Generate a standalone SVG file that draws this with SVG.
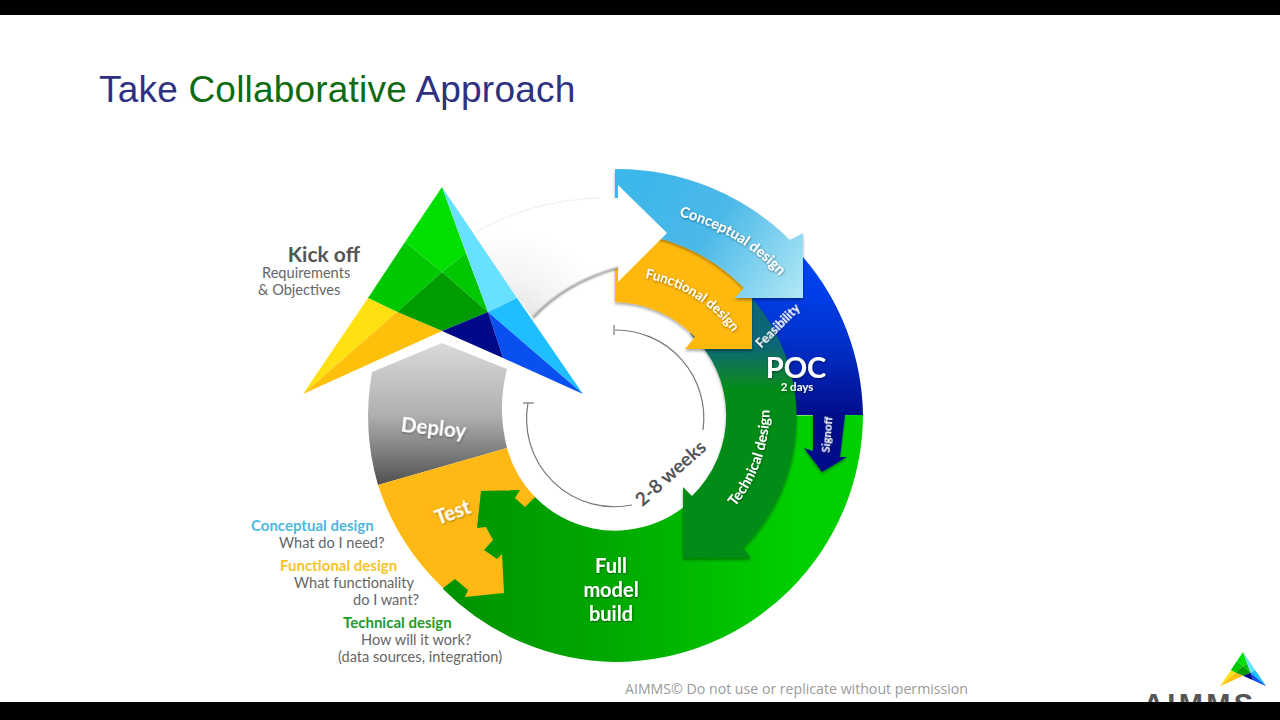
<svg xmlns="http://www.w3.org/2000/svg" xmlns:xlink="http://www.w3.org/1999/xlink" width="1280" height="720" viewBox="0 0 1280 720">
<style>
text{font-family:"Lato","Noto Sans","Liberation Sans",sans-serif}
.w{fill:#fff;font-weight:700;filter:url(#ts)}
.g{fill:#666;font-size:14.600px}
.lb{font-size:15px;font-weight:700}
</style>
<defs>
<linearGradient id="gGreen" gradientUnits="userSpaceOnUse" x1="450" y1="0" x2="800" y2="0"><stop offset="0" stop-color="#009300"/><stop offset="0.45" stop-color="#00a800"/><stop offset="1" stop-color="#00d000"/></linearGradient>
<linearGradient id="gBlue" gradientUnits="userSpaceOnUse" x1="0" y1="270" x2="0" y2="416"><stop offset="0" stop-color="#0044f2"/><stop offset="0.45" stop-color="#0033d0"/><stop offset="1" stop-color="#000d8c"/></linearGradient>
<linearGradient id="gTech" gradientUnits="userSpaceOnUse" x1="0" y1="345" x2="0" y2="390"><stop offset="0" stop-color="#0a6678"/><stop offset="0.5" stop-color="#0a7a4a"/><stop offset="1" stop-color="#058c18"/></linearGradient>
<linearGradient id="gConc" gradientUnits="userSpaceOnUse" x1="640" y1="180" x2="800" y2="290"><stop offset="0" stop-color="#3db6ea"/><stop offset="0.45" stop-color="#4cb9e8"/><stop offset="1" stop-color="#ace6f5"/></linearGradient>
<linearGradient id="gDep" gradientUnits="userSpaceOnUse" x1="0" y1="345" x2="0" y2="485"><stop offset="0" stop-color="#d8d8d8"/><stop offset="0.5" stop-color="#b0b0b0"/><stop offset="1" stop-color="#505050"/></linearGradient>
<radialGradient id="gWhite" gradientUnits="userSpaceOnUse" cx="505" cy="335" r="105"><stop offset="0" stop-color="#d8d8d8"/><stop offset="0.55" stop-color="#f4f4f4"/><stop offset="1" stop-color="#fff"/></radialGradient>
<filter id="ds" x="-10%" y="-10%" width="120%" height="120%"><feDropShadow dx="0" dy="2" stdDeviation="1.500" flood-color="#000" flood-opacity="0.35"/></filter>
<filter id="ts" x="-10%" y="-30%" width="120%" height="160%"><feDropShadow dx="0.500" dy="1" stdDeviation="0.800" flood-color="#000" flood-opacity="0.45"/></filter>
<filter id="bl" x="-10%" y="-10%" width="120%" height="120%"><feGaussianBlur stdDeviation="0.800"/></filter>
<g id="mark">
<polygon points="442,187 405,242 442,272 466,253" fill="#00e000"/>
<polygon points="405,242 368,298 397,312 442,272" fill="#00c800"/>
<polygon points="442,272 466,253 488,312" fill="#00c800"/>
<polygon points="442,272 397,312 442,331 488,312" fill="#009c00"/>
<polygon points="368,298 303,394 397,312" fill="#ffe010"/>
<polygon points="397,312 303,394 442,331" fill="#ffc00c"/>
<polygon points="442,187 517,298 488,312" fill="#68e0ff"/>
<polygon points="517,298 583,394 488,312" fill="#1ebeff"/>
<polygon points="488,312 583,394 503,358" fill="#0a50f0"/>
<polygon points="442,331 488,312 503,358" fill="#000a88"/>
</g>
<path id="pConc" d="M679,216 A210 210 0 0 1 779,275"/>
<path id="pFunc" d="M645,278 A145 145 0 0 1 737,338"/>
<path id="pTech" d="M735,507 A152 152 0 0 0 769,398"/>
</defs>
<rect width="1280" height="720" fill="#fff"/>
<text x="99" y="102" font-size="37" letter-spacing="0.200" fill="#2e3182" style="font-family:'Liberation Sans',sans-serif">Take <tspan fill="#0f6b12">Collaborative</tspan> Approach</text>

<g id="full-model-build">
<path d="M863,415 A248 248 0 0 1 615,662 A248 248 0 0 1 443,589 L470,480 L510,478 L535,497 A112 112 0 0 0 727,416 Z" fill="url(#gGreen)"/>
<text class="w" font-size="20" text-anchor="middle"><tspan x="611" y="573">Full</tspan><tspan x="611" y="597">model</tspan><tspan x="611" y="621">build</tspan></text>
</g>
<g id="poc">
<path d="M803,257 A248 248 0 0 1 863,415 L727,415 A112 112 0 0 0 700,340 L752,298 L803,298 Z" fill="url(#gBlue)"/>
</g>
<g id="signoff">
<polygon points="813,415 845,415 840,457 847,457 822,472 804,448 813,451" fill="#000e8a" filter="url(#ds)"/>
<text class="w" font-size="11.500" text-anchor="middle" transform="translate(831,435) rotate(-85)">Signoff</text>
</g>
<g id="technical-design">
<path d="M690,333 A112 112 0 0 1 692,496 L683,487 L683,558 L751,558 L743,548 A184 184 0 0 0 752,298 Z" fill="url(#gTech)" filter="url(#ds)"/>
<text class="w" font-size="14.500"><textPath href="#pTech" xlink:href="#pTech">Technical design</textPath></text>
</g>
<g id="poc-label">
<text x="796" y="378" class="w" font-size="29" text-anchor="middle">POC</text>
<text x="797" y="391" class="w" font-size="11.500" text-anchor="middle">2 days</text>
<text class="w" font-size="12.500" text-anchor="middle" transform="translate(781,329) rotate(-45)">Feasibility</text>
</g>
<g id="functional-design">
<path d="M615,232 A184 184 0 0 1 744,288 L735,298 L752,298 L752,349 L685,349 L695,337 A113 113 0 0 0 615,302 Z" fill="#ffb80a" filter="url(#ds)"/>
<text class="w" font-size="13.500"><textPath href="#pFunc" xlink:href="#pFunc">Functional design</textPath></text>
</g>
<g id="conceptual-design">
<path d="M615,169 A247 247 0 0 1 790,240 L803,233 L803,298 L735,298 L744,288 A184 184 0 0 0 615,232 Z" fill="url(#gConc)" filter="url(#ds)"/>
<text class="w" font-size="14.500"><textPath href="#pConc" xlink:href="#pConc">Conceptual design</textPath></text>
</g>
<g id="kick-off-arrow">
<path d="M618,198 Q530,198 470,235 L533,318 Q565,283 618,268 L618,282 L667,233 L618,185 Z" fill="url(#gWhite)"/>
<path d="M533,318 Q565,283 618,268" fill="none" stroke="#666" stroke-width="1.600" filter="url(#bl)"/>
<path d="M600,198 Q530,200 470,235" fill="none" stroke="#efefef" stroke-width="1"/>
</g>
<g id="deploy">
<path d="M372,372 L442,343 L507,369 A160 160 0 0 0 507,448 L378,485 A248 248 0 0 1 372,372 Z" fill="url(#gDep)"/>
<text class="w" font-size="20.500" text-anchor="middle" transform="translate(433,435) rotate(6)">Deploy</text>
</g>
<g id="test">
<path d="M378,485 L507,448 A113 113 0 0 0 535,497 L525,507 L515,498 L520,490 L481,491 L477,528 L486,527 L493,540 L484,550 L497,559 L502,554 L504,593 L465,597 L468,590 L455,579 L443,588 A248 248 0 0 1 378,485 Z" fill="#ffb914"/>
<text class="w" font-size="20" text-anchor="middle" transform="translate(455,519) rotate(-20)">Test</text>
</g>
<g id="kick-off">
<use href="#mark" xlink:href="#mark"/>
<text x="360" y="262" font-size="21" font-weight="700" fill="#555" text-anchor="end">Kick off</text>
<text x="262" y="278" class="g">Requirements</text>
<text x="258" y="295" class="g">&amp; Objectives</text>
</g>
<g id="connectors" fill="none" stroke="#777" stroke-width="1.200">
<path d="M615,330 A88 88 0 0 1 703,430"/>
<path d="M614,325 V335"/>
<path d="M528,403 A88 88 0 0 0 632,505"/>
<path d="M523,403 H534"/>
</g>
<text font-size="19" font-weight="700" fill="#555" text-anchor="middle" transform="translate(675,478) rotate(-42)">2-8 weeks</text>
<g id="legend">
<text x="251" y="531" class="lb" fill="#4db8e2">Conceptual design</text>
<text x="279" y="548" class="g">What do I need?</text>
<text x="280" y="571" class="lb" fill="#f8c428">Functional design</text>
<text x="294" y="588" class="g">What functionality</text>
<text x="353" y="605" class="g">do I want?</text>
<text x="343" y="628" class="lb" fill="#1f9a28">Technical design</text>
<text x="361" y="645" class="g">How will it work?</text>
<text x="338" y="662" class="g">(data sources, integration)</text>
</g>
<text x="625" y="694" font-size="14.150" fill="#9a9a9a" style="font-family:'Open Sans',sans-serif">AIMMS© Do not use or replicate without permission</text>
<g id="logo">
<use href="#mark" xlink:href="#mark" transform="translate(1243,652) scale(0.165) translate(-442,-187)"/>
<text x="1143" y="714" font-size="29" font-weight="700" fill="#555" textLength="110" style="font-family:'Liberation Sans',sans-serif">AIMMS</text>
</g>
<rect width="1280" height="15" fill="#000"/>
<rect y="702" width="1280" height="18" fill="#000"/>
</svg>
